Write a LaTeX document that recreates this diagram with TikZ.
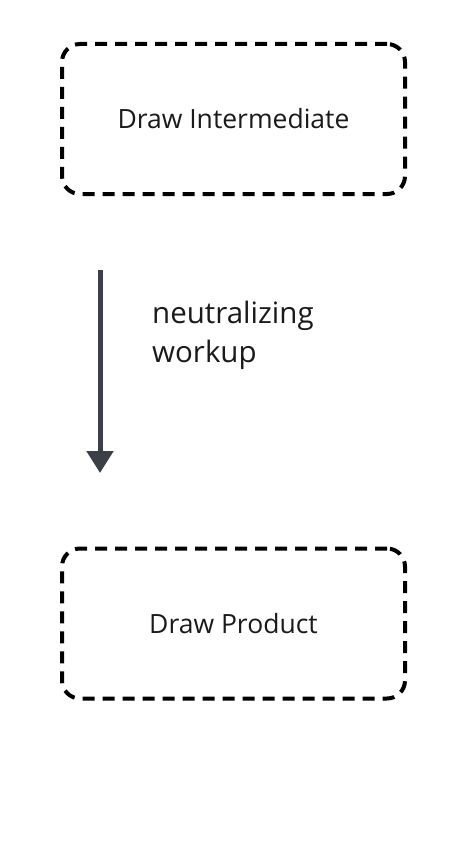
\documentclass[tikz,border=0pt]{standalone}
\usepackage{fontspec}
\setmainfont{Open Sans}
\usetikzlibrary{arrows.meta}
\definecolor{arrowgrey}{HTML}{3B3F48}
\definecolor{txt}{HTML}{1A1A1A}
\begin{document}
\begin{tikzpicture}[x=1pt,y=-1pt,
  procbox/.style={draw=black, line width=4pt, dash pattern=on 12pt off 8pt, rounded corners=18pt, minimum width=343pt, minimum height=150pt, text=txt, font=\fontsize{26.5}{30}\selectfont},
  flow/.style={draw=arrowgrey, line width=5pt, -{Triangle[width=26pt,length=22pt]}},
  lbl/.style={text=txt, font=\fontsize{29.5}{39}\selectfont, align=left, anchor=base west, inner sep=0pt}]
\useasboundingbox (0,0) rectangle (474,861);
\node[procbox] (inter) at (233.5,119) {Draw Intermediate};
\node[procbox] (prod) at (233.5,623.5) {Draw Product};
\coordinate (a1) at (100,270);
\coordinate (a2) at (100,473);
\draw[flow] (a1) -- (a2);
\node[lbl] (cond) at (152,362) {neutralizing\\workup};
\end{tikzpicture}
\end{document}
